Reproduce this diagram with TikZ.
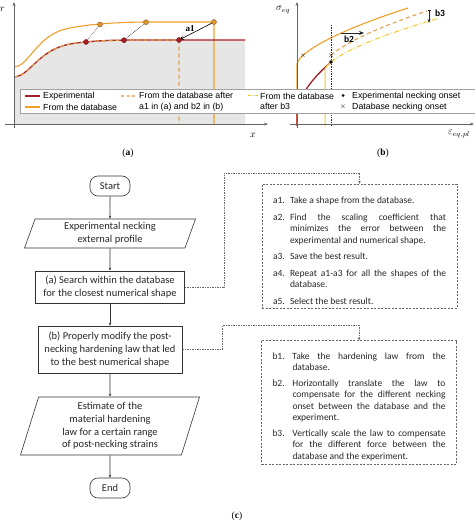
\documentclass[tikz,border=0pt]{standalone}
\usepackage{fontspec}
\setmainfont{Carlito}
\newfontfamily\legfont{Liberation Sans}
\newfontfamily\capfont{Liberation Serif}
\usetikzlibrary{arrows.meta,shapes.geometric}

\definecolor{expred}{RGB}{168,32,38}
\definecolor{dborange}{RGB}{240,160,40}
\definecolor{shiftorange}{RGB}{228,158,70}
\definecolor{scaleyellow}{RGB}{245,200,40}
\definecolor{areagray}{RGB}{230,230,230}
\definecolor{axisgray}{RGB}{100,100,100}
\definecolor{framegray}{RGB}{160,160,160}

\newlength{\lindent}
\newcommand{\lstep}[2]{\par\hangindent=\lindent\hangafter=1\noindent\makebox[\lindent][l]{#1}#2\par}

\tikzset{
  axis/.style={axisgray, line width=0.6pt, -{Stealth[length=4pt,width=3pt]}},
  expcurve/.style={expred, line width=1.3pt},
  dbcurve/.style={dborange, line width=1.1pt},
  shiftcurve/.style={shiftorange, line width=1.1pt, dash pattern=on 4pt off 3pt},
  scalecurve/.style={scaleyellow, line width=1pt, dash pattern=on 5pt off 2pt on 1pt off 2pt},
  reddot/.style={fill=expred, draw=expred!60!black, line width=0.4pt},
  orangedot/.style={fill=dborange!70!brown, draw=brown!70!black, line width=0.4pt},
  legtext/.style={anchor=west, align=left, inner sep=0pt, font=\legfont\fontsize{8.8}{10.5}\selectfont}
}

\begin{document}
\begin{tikzpicture}[
    x=1pt, y=-1pt,
    fc/.style={font=\fontsize{10.5}{12.7}\selectfont, text=black!85},
    terminal/.style={fc, draw=black!80, line width=0.6pt, rounded corners=8pt,
      minimum width=40pt, minimum height=20pt, inner sep=0pt},
    process/.style={fc, draw=black!80, line width=0.6pt, align=center, inner sep=0pt},
    io/.style={fc, trapezium, trapezium stretches body, draw=black!80, line width=0.6pt,
      align=center, inner sep=0pt},
    stepbox/.style={draw=black!60, line width=0.6pt, dash pattern=on 2pt off 1.5pt,
      text width=173pt, inner xsep=11pt, align=justify, text=black!85,
      font=\fontsize{9.5}{11.5}\selectfont},
    flow/.style={black!80, line width=0.6pt, -{Stealth[length=3pt,width=2.5pt]}},
    link/.style={black!60, line width=0.6pt, dash pattern=on 1.5pt off 1pt,
      -{Stealth[length=3pt,width=2.5pt]}}
  ]
  \useasboundingbox (0,0) rectangle (474,524);

  % (a) shapes
  \fill[areagray] (14,124) -- (14,77) .. controls (30,76) and (38,50) .. (70,44)
    .. controls (95,40) and (120,40) .. (150,40) -- (245,40) -- (245,124) -- cycle;
  \draw[dbcurve] (14,67) .. controls (30,66) and (36,34) .. (70,28)
    .. controls (90,24) and (120,22) .. (150,22) -- (214,22) -- (214,124);
  \draw[expcurve] (14,77) .. controls (30,76) and (38,50) .. (70,44)
    .. controls (95,40) and (120,40) .. (150,40) -- (245,40);
  \draw[shiftcurve] (14,77) .. controls (30,76) and (38,50) .. (70,44)
    .. controls (95,40) and (120,40) .. (150,40) -- (179,40) -- (179,124);
  \draw[axis] (14,128) -- (14,2);
  \draw[axis] (5,124) -- (268,124);
  \node[anchor=east, inner sep=0pt] (ylabA) at (5,9) {$r$};
  \node (xlabA) at (253,135) {$x$};

  \coordinate (db1) at (100,24.5);
  \coordinate (db2) at (146,22.2);
  \coordinate (db3) at (214,22);
  \coordinate (ex1) at (86,42);
  \coordinate (ex2) at (124,40.2);
  \coordinate (ex3) at (179,40);
  \draw[black!80, densely dotted, line width=0.6pt] (db1) -- (ex1);
  \draw[black!80, densely dotted, line width=0.6pt] (db2) -- (ex2);
  \draw[black, line width=0.6pt, -{Stealth[length=5pt,width=4pt]}] (db3) -- (ex3);
  \foreach \p in {db1,db2,db3}
    \draw[orangedot] (\p) circle[radius=2.5pt];
  \foreach \p in {ex1,ex2,ex3}
    \draw[reddot] (\p) circle[radius=2.5pt];
  \node[font=\capfont\bfseries\fontsize{9}{10}\selectfont] (aone) at (190,29) {a1};

  % (b) curves
  \draw[dbcurve] (297,126) -- (297,64) -- plot[domain=0.01:111, samples=100]
    ({297+\x},{64-2.7*\x^0.644});
  \draw[expcurve] (297,126) -- (297,114) -- plot[domain=0.01:34, samples=60]
    ({297+\x},{114-7.06*\x^0.566});
  \draw[shiftcurve] plot[domain=6:102, samples=60] ({325+\x},{64-2.7*\x^0.644});
  \draw[scaleyellow, line width=1pt] (325,126) -- (325,69.8) -- plot[domain=0.01:6, samples=20]
    ({325+\x},{124-0.904*(60+2.7*\x^0.644)});
  \draw[scalecurve] plot[domain=6:113, samples=60] ({325+\x},{124-0.904*(60+2.7*\x^0.644)});
  \draw[black!85, densely dotted, line width=0.7pt] (331,25) -- (331,126);
  \draw[axis] (297,128) -- (297,2);
  \draw[axis] (290,124) -- (474,124);
  \node (ylabB) at (283,10) {$\sigma_{eq}$};
  \node (xlabB) at (459,134) {$\varepsilon_{eq,pl}$};

  \fill[black] (331,62) circle[radius=1.8pt];
  \node[inner sep=0pt, font=\fontsize{7}{7}\selectfont] (crossdb) at (303,55.4) {$\times$};
  \node[inner sep=0pt, font=\fontsize{7}{7}\selectfont] (crossb2) at (331,55.4) {$\times$};

  \coordinate (btwoA) at (341,33);
  \coordinate (btwoB) at (364,33);
  \draw[black!85, line width=0.6pt, -{Stealth[length=5pt,width=4pt]}] (btwoA) -- (btwoB);
  \node[font=\bfseries\fontsize{9.5}{10}\selectfont] (btwo) at (349,39) {b2};
  \coordinate (bthreeA) at (429,10);
  \coordinate (bthreeB) at (429,23);
  \draw[black!85, line width=0.6pt, {Bar[width=3pt]}-{Stealth[length=4pt,width=3pt]}] (bthreeA) -- (bthreeB);
  \node[font=\bfseries\fontsize{9.5}{10}\selectfont] (bthree) at (440,13) {b3};

  % legend
  \fill[white] (20,89) rectangle (476,113);
  \draw[framegray, line width=0.8pt] (476,89) -- (20,89) -- (20,113) -- (476,113);
  \draw[expcurve] (25,96) -- (40,96);
  \draw[dbcurve] (25,107) -- (40,107);
  \draw[shiftcurve, shiftorange!70!white, dash pattern=on 3pt off 2.5pt] (121,96) -- (136,96);
  \draw[scalecurve, dash pattern=on 3pt off 1.5pt on 1pt off 1.5pt] (248,96) -- (258,96);
  \fill[black] (343,95.5) circle[radius=1.5pt];
  \node[inner sep=0pt, font=\fontsize{7}{7}\selectfont] (legcross) at (343,106.5) {$\times$};
  \node[legtext] (legexp) at (43,96) {Experimental};
  \node[legtext] (legdb) at (43,107) {From the database};
  \node[legtext] (legshift) at (139,101.5) {From the database after\\a1 in (a) and b2 in (b)};
  \node[legtext] (legscale) at (260,101.5) {From the database\\after b3};
  \node[legtext] (legonset) at (352,96) {Experimental necking onset};
  \node[legtext] (legdbonset) at (352,107) {Database necking onset};

  % captions
  \node[font=\capfont\fontsize{9.5}{10}\selectfont] (capa) at (128,153) {({\bfseries a})};
  \node[font=\capfont\fontsize{9.5}{10}\selectfont] (capb) at (383,153) {({\bfseries b})};
  \node[font=\capfont\fontsize{9.5}{10}\selectfont] (capc) at (237,516) {({\bfseries c})};

  % (c) flowchart
  \node[terminal] (start) at (110,186) {Start};
  \node[io, trapezium left angle=64, trapezium right angle=116,
    minimum width=171pt, minimum height=29pt] (profile) at (110,233.5)
    {Experimental necking\\external profile};
  \node[process, minimum width=149pt, minimum height=32pt] (search) at (110,287)
    {(a) Search within the database\\for the closest numerical shape};
  \node[process, minimum width=144pt, minimum height=47pt] (modify) at (110,349.5)
    {(b) Properly modify the post-\\necking hardening law that led\\to the best numerical shape};
  \node[io, trapezium left angle=69, trapezium right angle=111,
    minimum width=179pt, minimum height=58pt] (estimate) at (110,426)
    {Estimate of the\\material hardening\\law for a certain range\\of post-necking strains};
  \node[terminal] (stop) at (110,488) {End};

  \draw[flow] (start) -- (profile);
  \draw[flow] (profile) -- (search);
  \draw[flow] (search) -- (modify);
  \draw[flow] (modify) -- (estimate);
  \draw[flow] (estimate) -- (stop);

  \node[stepbox, minimum height=118pt] (tasksA) at (359.5,246) {%
    \setlength{\lindent}{17pt}\setlength{\parskip}{5pt}%
    \lstep{a1.}{Take a shape from the database.}
    \lstep{a2.}{Find the scaling coefficient that\linebreak minimizes the error between the\linebreak experimental and numerical shape.}
    \lstep{a3.}{Save the best result.}
    \lstep{a4.}{Repeat a1-a3 for all the shapes of the\linebreak database.}
    \lstep{a5.}{Select the best result.}};
  \node[stepbox, minimum height=121pt] (tasksB) at (359,402.5) {%
    \setlength{\lindent}{20pt}\setlength{\parskip}{4pt}%
    \lstep{b1.}{Take the hardening law from the\linebreak database.}
    \lstep{b2.}{Horizontally translate the law to\linebreak compensate for the different necking\linebreak onset between the database and the\linebreak experiment.}
    \lstep{b3.}{Vertically scale the law to compensate\linebreak for the different force between the\linebreak database and the experiment.}};

  \draw[link] (search.east) -- ++(39,0) |- ([yshift=11pt]tasksA.north) -- (tasksA.north);
  \draw[link] (modify.east) -- ++(40,0) |- ([yshift=15pt]tasksB.north) -- (tasksB.north);
\end{tikzpicture}
\end{document}
